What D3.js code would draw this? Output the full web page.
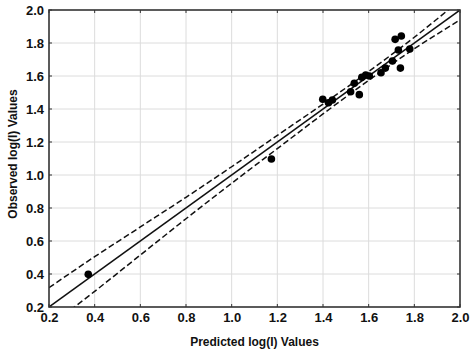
<!DOCTYPE html>
<html><head><meta charset="utf-8">
<script src="https://cdn.jsdelivr.net/npm/d3@7"></script>
<style>body{margin:0;background:#fff}svg{display:block}</style>
</head><body>
<svg id="c" width="474" height="355"></svg>
<script>
const predicted = [0.372,1.174,1.399,1.424,1.441,1.521,1.537,1.559,1.570,1.587,1.603,1.654,1.673,1.704,1.716,1.743,1.730,1.739,1.780];
const observed  = [0.398,1.097,1.459,1.438,1.455,1.505,1.556,1.487,1.592,1.606,1.600,1.620,1.648,1.691,1.822,1.842,1.758,1.648,1.764];
const fitX = [0.2,2.0];
const fitY = [0.2,2.0];
const bandX = [0.2,0.4,0.6,0.8,1.0,1.2,1.4,1.6,1.8,2.0];
const bandUpper = [0.317,0.505,0.685,0.865,1.05,1.24,1.43,1.627,1.835,2.06];
const bandLower = [0.083,0.295,0.515,0.735,0.95,1.16,1.37,1.573,1.765,1.94];
const ticks = [0.2,0.4,0.6,0.8,1.0,1.2,1.4,1.6,1.8,2.0];
const xTitle = "Predicted log(I) Values";
const yTitle = "Observed log(I) Values";

const L=49,R=460,T=10,B=307;
const svg=d3.select("#c");
const x=d3.scaleLinear().domain([0.2,2.0]).range([L,R]);
const y=d3.scaleLinear().domain([0.2,2.0]).range([B,T]);
const font="'Liberation Sans', Arial, Helvetica, sans-serif";

// grid
const g=svg.append("g");
g.selectAll(".gx").data(ticks.slice(1,-1)).join("line")
 .attr("x1",d=>x(d)).attr("x2",d=>x(d)).attr("y1",T).attr("y2",B)
 .attr("stroke","#dcdcdc").attr("stroke-width",1);
g.selectAll(".gy").data(ticks.slice(1,-1)).join("line")
 .attr("y1",d=>y(d)).attr("y2",d=>y(d)).attr("x1",L).attr("x2",R)
 .attr("stroke","#dcdcdc").attr("stroke-width",1);

svg.append("defs").append("clipPath").attr("id","clip").append("rect")
 .attr("x",L).attr("y",T).attr("width",R-L).attr("height",B-T);
const p=svg.append("g").attr("clip-path","url(#clip)");
const bx=bandX.map((v,i)=>i);
const lineU=d3.line().x(i=>x(bandX[i])).y(i=>y(bandUpper[i])).curve(d3.curveMonotoneX);
const lineL=d3.line().x(i=>x(bandX[i])).y(i=>y(bandLower[i])).curve(d3.curveMonotoneX);
p.append("path").attr("d",lineU(bx)).attr("fill","none").attr("stroke","#111").attr("stroke-width",1.5).attr("stroke-dasharray","6,3");
p.append("path").attr("d",lineL(bx)).attr("fill","none").attr("stroke","#111").attr("stroke-width",1.5).attr("stroke-dasharray","6,3");
p.append("line").attr("x1",x(fitX[0])).attr("y1",y(fitY[0])).attr("x2",x(fitX[1])).attr("y2",y(fitY[1]))
 .attr("stroke","#111").attr("stroke-width",1.5);

p.selectAll("circle").data(predicted).join("circle")
 .attr("cx",d=>x(d)).attr("cy",(d,i)=>y(observed[i])).attr("r",3.8).attr("fill","#000");

// axes
const ax=svg.append("g").attr("transform",`translate(0,${B})`)
 .call(d3.axisBottom(x).tickValues(ticks).tickFormat(d3.format(".1f")).tickSize(0).tickPadding(6));
const ay=svg.append("g").attr("transform",`translate(${L},0)`)
 .call(d3.axisLeft(y).tickValues(ticks).tickFormat(d3.format(".1f")).tickSize(0).tickPadding(5));
[ax,ay].forEach(a=>{a.select(".domain").remove();a.selectAll("text").attr("font-family",font).attr("font-weight","bold").attr("font-size",13).attr("fill","#111");});

// inner ticks on all sides
const tk=svg.append("g").attr("stroke","#333").attr("stroke-width",1);
ticks.forEach(t=>{
 tk.append("line").attr("x1",x(t)).attr("x2",x(t)).attr("y1",B).attr("y2",B-3);
 tk.append("line").attr("x1",x(t)).attr("x2",x(t)).attr("y1",T).attr("y2",T+3);
 tk.append("line").attr("y1",y(t)).attr("y2",y(t)).attr("x1",L).attr("x2",L+3);
 tk.append("line").attr("y1",y(t)).attr("y2",y(t)).attr("x1",R).attr("x2",R-3);
});
svg.append("rect").attr("x",L).attr("y",T).attr("width",R-L).attr("height",B-T)
 .attr("fill","none").attr("stroke","#333").attr("stroke-width",1.6);

svg.append("text").attr("x",(L+R)/2).attr("y",346).attr("text-anchor","middle")
 .attr("font-family",font).attr("font-weight","bold").attr("font-size",12).attr("fill","#111").text(xTitle);
svg.append("text").attr("transform",`translate(17,154) rotate(-90)`).attr("text-anchor","middle")
 .attr("font-family",font).attr("font-weight","bold").attr("font-size",12).attr("fill","#111").text(yTitle);
</script>
</body></html>
